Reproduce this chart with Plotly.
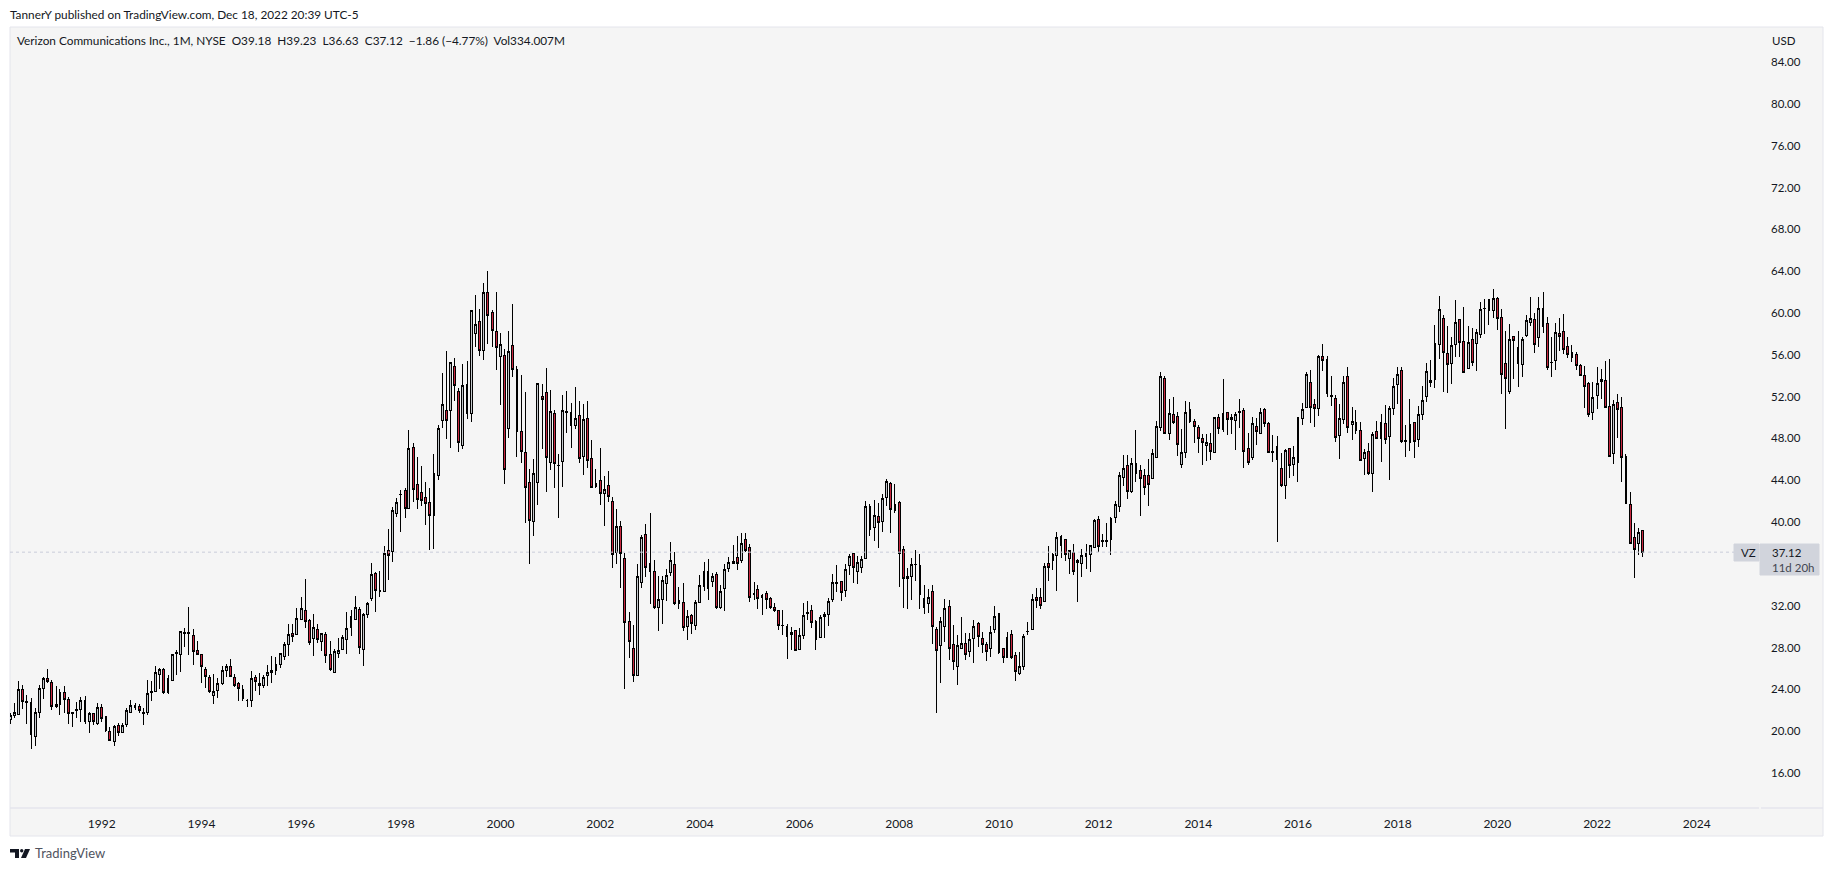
import pandas as pd
import plotly.graph_objects as go

# Verizon monthly bars, Mar 1990 - Dec 2022
start_month = "1990-03-01"

opens = [
    21.07, 21.48, 21.61, 24.00, 22.85, 22.76, 19.48, 21.77, 24.10, 25.05,
    24.67, 22.34, 22.57, 23.72, 23.05, 21.71, 21.96, 22.09, 22.95, 20.91,
    21.71, 20.72, 22.28, 21.42, 19.98, 19.03, 20.56, 19.86, 20.62, 21.80,
    22.25, 22.38, 21.71, 21.77, 23.72, 23.81, 25.40, 25.85, 23.69, 24.86,
    27.41, 27.32, 29.33, 29.33, 29.17, 27.73, 27.35, 25.92, 25.18, 23.40,
    23.87, 24.55, 25.79, 26.17, 25.15, 24.55, 24.00, 22.92, 22.89, 25.15,
    24.58, 24.35, 25.31, 25.60, 25.82, 26.39, 27.13, 28.31, 29.36, 29.26,
    30.70, 31.56, 30.60, 28.85, 29.74, 28.56, 29.26, 27.35, 25.60, 27.41,
    27.83, 28.78, 29.93, 30.70, 31.65, 27.83, 31.17, 32.67, 35.10, 33.37,
    33.37, 37.29, 37.20, 40.83, 42.59, 43.03, 41.31, 47.15, 43.61, 42.84,
    42.33, 41.89, 40.64, 44.47, 49.73, 50.65, 50.68, 54.89, 52.50, 47.33,
    53.17, 50.40, 58.05, 59.19, 56.42, 61.97, 60.05, 58.24, 55.81, 55.94,
    48.96, 56.90, 54.60, 48.67, 46.67, 43.80, 40.04, 43.80, 52.02, 52.40,
    45.71, 50.40, 45.39, 45.80, 50.59, 50.49, 49.25, 50.20, 46.28, 49.92,
    46.09, 43.38, 43.99, 42.75, 43.51, 41.98, 37.07, 39.59, 36.53, 30.51,
    27.92, 25.34, 34.24, 38.83, 36.05, 35.29, 31.85, 32.61, 34.11, 35.19,
    35.96, 32.23, 32.32, 30.00, 31.08, 30.12, 32.32, 33.85, 35.29, 34.33,
    35.00, 31.85, 33.66, 35.58, 36.05, 36.63, 36.34, 38.35, 37.58, 33.15,
    33.57, 32.80, 33.18, 32.71, 31.85, 31.56, 30.12, 30.03, 29.26, 29.65,
    27.80, 29.17, 31.27, 31.56, 30.51, 28.98, 30.98, 31.18, 32.61, 34.14,
    34.33, 33.47, 35.86, 37.01, 35.29, 35.67, 36.53, 41.51, 39.50, 40.55,
    40.07, 42.37, 43.70, 41.12, 41.89, 37.39, 34.62, 34.81, 35.93, 35.86,
    32.71, 32.23, 33.38, 29.74, 28.18, 30.03, 31.94, 28.31, 26.20, 27.92,
    28.40, 27.64, 28.88, 30.32, 28.88, 28.31, 27.92, 29.74, 31.27, 27.92,
    27.06, 29.26, 27.25, 25.50, 26.20, 29.49, 29.74, 32.80, 32.80, 32.42,
    36.05, 36.34, 36.82, 38.64, 38.35, 36.53, 37.11, 36.34, 36.05, 36.72,
    36.91, 37.58, 40.26, 38.13, 38.16, 38.35, 40.45, 41.47, 44.28, 45.42,
    42.91, 45.61, 44.94, 44.47, 44.47, 44.18, 46.19, 49.06, 53.74, 48.48,
    50.30, 50.11, 45.52, 46.67, 50.78, 49.63, 49.06, 48.01, 47.34, 47.53,
    46.67, 50.01, 48.83, 50.49, 49.82, 49.73, 50.49, 50.68, 47.05, 46.19,
    49.15, 48.48, 50.78, 49.44, 46.76, 47.24, 45.14, 43.51, 47.05, 45.52,
    45.71, 49.92, 50.94, 53.36, 51.26, 50.84, 55.85, 55.56, 52.12, 51.83,
    48.29, 49.82, 53.94, 49.31, 49.54, 48.77, 46.09, 46.76, 44.63, 48.67,
    48.01, 49.45, 48.20, 50.88, 53.18, 54.51, 47.82, 47.63, 49.54, 47.91,
    50.31, 52.03, 53.56, 53.65, 57.00, 59.49, 56.14, 55.18, 57.00, 59.39,
    57.29, 54.71, 57.48, 57.10, 57.96, 60.38, 61.30, 60.25, 61.40, 59.58,
    55.18, 52.47, 57.77, 56.71, 55.09, 57.86, 59.10, 59.39, 57.67, 60.44,
    59.01, 55.25, 55.47, 58.05, 58.24, 56.81, 56.24, 56.04, 54.99, 54.04,
    53.27, 50.50, 52.12, 53.46, 53.56, 51.07, 46.54, 51.45, 50.98, 46.29,
    41.70, 38.54, 37.97, 39.18,
]
highs = [
    21.77, 22.66, 24.80, 24.42, 23.46, 23.14, 22.19, 24.42, 25.21, 25.92,
    24.90, 24.32, 24.03, 24.32, 23.24, 21.80, 22.76, 23.24, 23.36, 21.80,
    21.77, 22.66, 22.60, 21.42, 20.37, 20.59, 20.75, 20.81, 22.19, 22.98,
    22.66, 22.57, 22.19, 24.90, 24.80, 26.23, 26.01, 26.01, 25.34, 27.35,
    27.76, 29.55, 29.90, 31.88, 29.77, 28.59, 27.38, 26.17, 25.37, 25.44,
    25.05, 26.23, 26.43, 26.87, 25.47, 24.74, 24.38, 23.05, 25.76, 25.37,
    25.53, 25.37, 26.30, 27.16, 27.06, 27.45, 28.50, 30.25, 30.25, 31.75,
    32.86, 34.55, 30.70, 31.21, 30.25, 29.36, 29.48, 28.66, 27.86, 28.88,
    29.17, 31.43, 31.59, 32.93, 31.88, 31.27, 32.35, 36.08, 35.19, 35.32,
    37.71, 39.34, 41.41, 42.27, 43.07, 43.22, 48.80, 47.53, 46.22, 45.36,
    43.83, 43.22, 46.51, 49.28, 54.22, 56.36, 55.27, 55.66, 52.79, 55.11,
    55.37, 60.25, 61.71, 60.34, 62.83, 64.01, 60.28, 61.97, 58.05, 56.55,
    58.27, 60.85, 54.89, 54.03, 52.44, 45.04, 46.00, 53.26, 53.17, 54.73,
    52.59, 50.68, 46.47, 52.15, 52.50, 51.35, 52.91, 51.54, 51.26, 51.54,
    47.81, 45.04, 47.08, 44.37, 44.88, 42.37, 41.22, 40.10, 37.01, 31.37,
    30.12, 35.96, 38.76, 39.78, 40.87, 36.34, 34.81, 34.81, 35.48, 38.06,
    37.11, 33.79, 34.17, 31.59, 31.18, 32.51, 34.91, 36.15, 36.44, 35.10,
    35.19, 33.95, 35.99, 36.63, 37.81, 38.67, 38.95, 38.95, 37.87, 34.24,
    33.95, 33.09, 33.38, 32.83, 32.26, 31.56, 31.56, 30.28, 29.93, 29.71,
    29.87, 32.23, 32.45, 32.04, 30.60, 31.08, 31.37, 32.71, 35.00, 35.89,
    34.33, 35.99, 36.91, 37.01, 36.72, 36.72, 41.98, 41.70, 42.08, 41.79,
    42.68, 44.12, 43.80, 43.64, 41.98, 37.68, 35.64, 36.53, 37.33, 36.95,
    33.95, 33.57, 33.95, 29.93, 30.89, 32.61, 32.51, 30.12, 29.20, 30.89,
    29.36, 29.36, 30.60, 30.41, 29.45, 28.50, 30.03, 31.97, 31.27, 27.92,
    29.45, 29.65, 27.54, 27.54, 29.26, 30.41, 33.09, 33.66, 33.66, 36.05,
    37.68, 37.01, 39.05, 38.73, 38.35, 37.30, 37.90, 36.44, 37.39, 37.87,
    37.78, 40.26, 40.55, 38.83, 39.88, 40.45, 42.01, 44.75, 46.38, 46.38,
    46.09, 48.80, 45.42, 45.04, 46.00, 46.95, 49.66, 54.32, 53.94, 51.74,
    51.96, 50.49, 48.87, 51.54, 51.45, 49.82, 49.28, 48.39, 48.42, 48.48,
    50.01, 50.30, 53.68, 50.49, 50.30, 50.49, 51.74, 50.87, 48.48, 50.01,
    49.92, 50.87, 50.87, 49.54, 48.29, 48.20, 46.57, 46.95, 47.05, 47.24,
    50.01, 51.35, 54.32, 54.51, 51.74, 55.98, 57.00, 55.85, 53.94, 52.12,
    51.26, 53.97, 54.80, 50.97, 50.72, 49.54, 46.95, 47.56, 48.58, 49.66,
    50.30, 51.20, 51.10, 53.81, 54.80, 54.80, 49.29, 51.74, 49.60, 51.10,
    52.98, 55.18, 55.50, 58.85, 61.59, 59.77, 58.79, 57.67, 61.24, 59.39,
    60.57, 58.75, 58.53, 58.44, 61.02, 61.34, 61.30, 62.29, 61.50, 60.35,
    58.28, 58.91, 57.80, 58.28, 57.67, 59.77, 61.50, 59.97, 61.50, 61.97,
    59.58, 57.67, 59.01, 59.49, 59.87, 57.67, 56.91, 56.24, 55.12, 54.90,
    53.37, 53.43, 54.80, 54.61, 55.37, 55.57, 51.64, 52.22, 51.96, 46.48,
    42.85, 39.88, 39.40, 39.23,
]
lows = [
    20.69, 21.29, 21.55, 22.09, 20.69, 18.30, 18.58, 21.29, 23.05, 24.64,
    22.03, 22.19, 21.55, 21.77, 20.72, 20.43, 21.29, 20.91, 20.69, 19.86,
    20.59, 20.62, 20.85, 19.95, 19.06, 18.58, 19.57, 19.80, 20.43, 21.71,
    22.03, 21.71, 20.59, 21.55, 22.89, 23.78, 24.00, 23.56, 23.56, 24.86,
    25.37, 25.69, 28.08, 27.29, 26.36, 27.26, 24.58, 24.16, 23.62, 22.60,
    23.17, 24.45, 25.21, 25.15, 24.20, 22.92, 22.92, 22.34, 22.34, 23.87,
    23.46, 24.10, 24.35, 24.64, 25.37, 26.01, 26.81, 27.19, 28.53, 29.26,
    30.63, 29.90, 28.27, 27.19, 28.46, 27.67, 26.55, 25.79, 25.53, 27.00,
    27.83, 27.38, 29.10, 30.63, 27.41, 26.23, 30.82, 32.45, 31.40, 32.86,
    33.34, 34.49, 36.18, 40.51, 39.08, 40.39, 41.28, 41.95, 41.25, 41.57,
    39.72, 37.33, 37.42, 44.02, 49.02, 47.94, 47.11, 51.61, 46.73, 46.98,
    49.89, 49.60, 56.77, 55.91, 55.53, 57.03, 56.77, 54.57, 51.22, 43.67,
    48.07, 53.90, 46.25, 45.68, 39.94, 36.02, 38.70, 41.63, 47.02, 42.90,
    44.98, 43.29, 40.42, 43.38, 48.55, 47.08, 48.93, 45.68, 44.53, 45.20,
    43.29, 43.29, 41.63, 39.66, 41.95, 35.64, 36.02, 33.73, 24.07, 26.97,
    24.74, 25.34, 33.73, 34.78, 32.16, 31.65, 29.61, 30.28, 32.48, 34.81,
    32.04, 31.65, 29.61, 28.72, 29.33, 29.71, 32.32, 33.38, 32.58, 33.79,
    31.72, 31.65, 31.53, 35.22, 36.05, 35.38, 36.09, 37.11, 32.39, 32.51,
    31.72, 31.14, 31.72, 31.72, 31.43, 29.71, 29.23, 26.94, 27.80, 27.73,
    27.80, 28.85, 30.67, 29.84, 27.80, 28.88, 28.94, 30.09, 32.39, 33.28,
    32.48, 32.87, 34.91, 34.20, 34.05, 35.16, 36.50, 38.70, 38.22, 37.55,
    39.08, 41.57, 38.99, 40.84, 33.82, 31.81, 31.72, 32.58, 34.40, 31.72,
    31.24, 31.34, 28.37, 21.71, 24.64, 28.56, 26.81, 25.88, 24.45, 27.89,
    26.84, 27.13, 26.55, 28.08, 27.51, 26.74, 27.13, 29.42, 27.35, 26.55,
    27.06, 26.87, 24.83, 25.41, 25.85, 29.23, 29.68, 31.75, 31.72, 32.32,
    34.40, 35.42, 33.44, 36.56, 36.31, 35.03, 34.97, 32.39, 34.78, 35.48,
    35.26, 37.49, 37.17, 37.58, 37.58, 36.88, 39.94, 40.99, 43.45, 42.24,
    42.81, 43.86, 40.61, 42.62, 41.57, 44.08, 46.19, 48.74, 48.48, 47.88,
    49.34, 46.35, 45.20, 46.16, 49.44, 47.53, 46.57, 45.49, 45.87, 45.93,
    46.67, 48.39, 48.64, 48.29, 48.39, 46.92, 48.96, 45.20, 45.42, 45.90,
    47.34, 48.48, 49.06, 46.57, 45.77, 38.12, 43.38, 42.24, 44.24, 44.43,
    43.83, 49.28, 50.87, 49.44, 49.09, 50.14, 54.48, 51.99, 51.10, 47.69,
    46.06, 49.34, 48.52, 47.85, 48.45, 45.90, 44.53, 44.50, 42.90, 47.91,
    45.77, 47.50, 44.06, 50.27, 51.26, 47.60, 46.26, 46.83, 46.16, 47.21,
    49.80, 51.52, 52.95, 52.86, 55.63, 52.47, 52.38, 53.18, 55.76, 55.82,
    54.32, 54.67, 54.96, 54.48, 57.57, 57.99, 58.85, 59.49, 58.37, 52.28,
    48.94, 52.28, 53.72, 52.95, 53.84, 57.73, 58.72, 56.14, 56.71, 58.12,
    54.58, 53.91, 54.51, 56.33, 56.04, 55.66, 55.34, 54.55, 54.00, 50.94,
    50.08, 49.80, 50.85, 51.74, 50.88, 46.26, 45.59, 48.07, 43.87, 41.79,
    37.97, 34.68, 36.88, 36.63,
]
closes = [
    21.45, 21.80, 24.00, 22.85, 22.76, 19.67, 21.80, 24.10, 25.05, 24.74,
    22.34, 22.57, 23.72, 23.05, 21.67, 21.77, 22.09, 22.95, 20.91, 21.71,
    20.91, 22.28, 21.23, 20.05, 19.13, 20.46, 19.86, 20.56, 21.93, 22.41,
    22.47, 21.96, 21.80, 23.62, 23.81, 25.63, 25.85, 23.69, 25.05, 27.35,
    27.48, 29.55, 29.39, 29.39, 27.64, 27.32, 26.17, 25.21, 23.75, 23.78,
    24.58, 25.82, 26.14, 25.25, 24.35, 24.07, 23.11, 22.98, 25.05, 24.74,
    24.35, 25.15, 25.63, 25.82, 26.39, 27.45, 28.31, 29.26, 29.04, 30.79,
    31.75, 30.50, 28.46, 29.93, 28.78, 29.36, 27.25, 25.88, 27.64, 27.73,
    28.97, 29.83, 30.98, 31.84, 27.99, 31.17, 32.23, 35.00, 33.44, 33.47,
    37.04, 36.82, 41.12, 41.85, 42.65, 41.31, 47.05, 43.13, 42.17, 42.08,
    41.79, 40.64, 44.66, 48.96, 51.22, 49.73, 55.27, 53.07, 47.62, 53.07,
    50.40, 60.25, 58.91, 56.42, 61.97, 59.77, 58.30, 56.68, 56.99, 45.04,
    56.32, 54.60, 48.67, 46.76, 43.29, 40.13, 44.66, 53.26, 51.73, 46.19,
    50.59, 45.61, 45.42, 50.68, 50.49, 49.25, 49.92, 46.09, 49.82, 45.90,
    43.32, 43.70, 42.74, 43.13, 42.43, 36.91, 39.59, 37.01, 30.41, 28.59,
    25.34, 34.81, 38.54, 35.67, 35.26, 31.85, 32.61, 34.43, 34.91, 36.34,
    32.23, 32.51, 29.93, 30.98, 30.32, 32.32, 33.95, 35.29, 33.66, 34.81,
    31.85, 33.38, 35.48, 36.15, 36.24, 36.05, 37.97, 37.30, 32.80, 33.09,
    32.71, 32.99, 32.61, 31.85, 31.56, 30.12, 30.09, 29.07, 29.45, 27.73,
    29.17, 31.08, 31.37, 30.41, 28.78, 30.89, 31.18, 32.42, 34.24, 34.24,
    33.28, 35.48, 36.72, 35.67, 36.15, 36.44, 41.51, 39.27, 40.64, 39.97,
    42.27, 43.90, 41.19, 41.70, 37.01, 34.62, 34.81, 35.96, 35.96, 33.09,
    31.85, 32.80, 30.03, 27.70, 30.51, 31.75, 27.92, 26.68, 28.21, 28.40,
    27.35, 28.78, 30.03, 29.04, 28.31, 27.64, 29.45, 30.98, 27.54, 27.06,
    28.98, 27.03, 25.72, 26.20, 29.07, 29.55, 32.61, 32.51, 32.04, 35.77,
    35.64, 36.91, 38.54, 37.78, 36.91, 37.30, 35.29, 36.15, 36.82, 37.01,
    37.78, 40.17, 37.68, 38.19, 38.25, 40.35, 41.69, 44.47, 45.14, 42.94,
    45.61, 44.66, 44.18, 43.32, 43.61, 46.57, 49.15, 53.94, 48.48, 50.40,
    49.54, 47.43, 46.67, 50.49, 49.63, 49.15, 48.01, 47.62, 47.62, 46.76,
    50.01, 48.96, 50.40, 49.82, 50.01, 50.30, 50.59, 46.76, 45.71, 49.44,
    48.67, 50.49, 49.44, 46.67, 46.67, 46.00, 43.48, 46.86, 45.42, 46.19,
    50.01, 50.78, 54.13, 50.97, 50.84, 55.88, 55.47, 52.31, 51.99, 48.10,
    49.92, 53.36, 49.06, 49.63, 48.77, 45.90, 46.67, 44.63, 48.39, 48.01,
    49.54, 47.91, 50.88, 52.98, 54.13, 47.69, 47.69, 49.35, 47.72, 50.31,
    51.64, 54.42, 53.37, 57.10, 60.35, 56.24, 55.09, 56.91, 59.10, 57.19,
    54.32, 57.19, 55.28, 58.15, 60.35, 60.44, 60.25, 61.40, 59.49, 54.13,
    53.75, 57.48, 57.38, 55.18, 57.48, 59.30, 59.49, 57.00, 60.44, 58.72,
    54.77, 55.28, 58.15, 57.77, 56.52, 56.04, 55.76, 54.99, 54.04, 52.98,
    50.31, 51.93, 53.27, 53.65, 50.98, 46.29, 51.26, 50.78, 46.19, 41.79,
    37.97, 37.39, 39.02, 37.12,
]

# 36.00 is hidden behind the last-price tag in the original
price_ticks = [p for p in range(16, 85, 4) if p != 36]
last_price = closes[-1]

W, H = 1834, 871
TEXT = "#131722"
PANEL = "#f5f5f5"
BORDER = "#e4e5ec"
TAG = "#d1d4dc"
FONT = "Lato"


def fx(x):
    return x / W


def fy(y):
    return 1 - y / H


def label(x, y, text, size=11.8, color=TEXT, anchor="left"):
    return dict(x=fx(x), y=fy(y), xref="paper", yref="paper", text=text, showarrow=False,
                xanchor=anchor, yanchor="middle", align="left",
                font=dict(family=FONT, size=size, color=color))


def box(x0, y0, x1, y1, fill, line=None):
    return dict(type="rect", xref="paper", yref="paper", x0=fx(x0), x1=fx(x1), y0=fy(y0), y1=fy(y1),
                fillcolor=fill, line=dict(color=line or fill, width=1), layer="below")


dates = pd.date_range(start_month, periods=len(closes), freq="MS")

fig = go.Figure(go.Candlestick(
    x=dates, open=opens, high=highs, low=lows, close=closes,
    increasing=dict(fillcolor="#c4c8cc", line=dict(color="#000000", width=1)),
    decreasing=dict(fillcolor="#c8273f", line=dict(color="#000000", width=1)),
    whiskerwidth=0,
    showlegend=False,
))

shapes = [
    box(10, 27, 1823, 836, PANEL, BORDER),
    dict(type="line", xref="paper", yref="paper", x0=fx(10), x1=fx(1759), y0=fy(808), y1=fy(808),
         line=dict(color=BORDER, width=1.5)),
    dict(type="line", xref="paper", yref="paper", x0=fx(1761), x1=fx(1823), y0=fy(808), y1=fy(808),
         line=dict(color=BORDER, width=1.5)),
    dict(type="line", xref="paper", yref="y", x0=fx(10), x1=fx(1734), y0=last_price, y1=last_price,
         line=dict(color="#c9ccda", width=1, dash="dot")),
    box(1734, 544, 1759, 561, TAG),
    box(1760, 544, 1819, 575, TAG),
    # TradingView mark: bar with stem, dot, slash
    dict(type="path", xref="paper", yref="paper", line=dict(width=0), fillcolor="#131722",
         path=f"M {fx(10)} {fy(849)} L {fx(19)} {fy(849)} L {fx(19)} {fy(858)} L {fx(15)} {fy(858)} "
              f"L {fx(15)} {fy(852.5)} L {fx(10)} {fy(852.5)} Z"),
    dict(type="circle", xref="paper", yref="paper", line=dict(width=0), fillcolor="#131722",
         x0=fx(20), x1=fx(23.4), y0=fy(849), y1=fy(852.4)),
    dict(type="path", xref="paper", yref="paper", line=dict(width=0), fillcolor="#131722",
         path=f"M {fx(25)} {fy(849)} L {fx(30)} {fy(849)} L {fx(26)} {fy(858)} L {fx(21)} {fy(858)} Z"),
]

legend_text = ("Verizon Communications Inc., 1M, NYSE\u00a0\u00a0O39.18\u00a0\u00a0H39.23\u00a0\u00a0L36.63"
               "\u00a0\u00a0C37.12\u00a0\u00a0\u22121.86 (\u22124.77%)\u00a0\u00a0Vol334.007M")

annotations = [
    label(8, 14, "TannerY published on TradingView.com, Dec 18, 2022 20:39 UTC-5"),
    label(15, 41, legend_text),
    label(1770, 40, "USD", size=11.5),
    label(1739, 552, "VZ", size=11.5),
    label(1770, 552, f"{last_price:.2f}", size=11.5),
    label(1770, 567, "11d 20h", size=11.5, color="#434651"),
    label(33, 853, "TradingView", size=13, color="#50535e"),
]

fig.update_layout(
    width=W, height=H,
    margin=dict(l=0, r=0, t=0, b=0),
    paper_bgcolor="#ffffff",
    plot_bgcolor="rgba(0,0,0,0)",
    font=dict(family=FONT, size=12, color=TEXT),
    shapes=shapes,
    annotations=annotations,
    showlegend=False,
    xaxis=dict(
        domain=[fx(10), fx(1760)],
        type="date",
        range=["1990-02-28", "2025-04-09"],
        rangeslider=dict(visible=False),
        tick0="1992-01-01", dtick="M24", tickformat="%Y",
        showgrid=False, zeroline=False, showline=False,
        ticks="", ticklabelstandoff=7,
    ),
    yaxis=dict(
        domain=[fy(808), fy(27)],
        side="right",
        range=[12.65, 87.35],
        tickvals=price_ticks,
        ticktext=[f"{p:.2f}" for p in price_ticks],
        tickfont=dict(size=11.5),
        showgrid=False, zeroline=False, showline=False,
        ticks="", ticklabelstandoff=10,
    ),
)

# crisp 1px candle outlines, no page margin
post = ("document.body.style.margin='0';"
        "document.querySelectorAll('.boxes path').forEach(p=>p.style.shapeRendering='crispEdges');")
fig.write_html("out.html", config=dict(displayModeBar=False), post_script=post)
